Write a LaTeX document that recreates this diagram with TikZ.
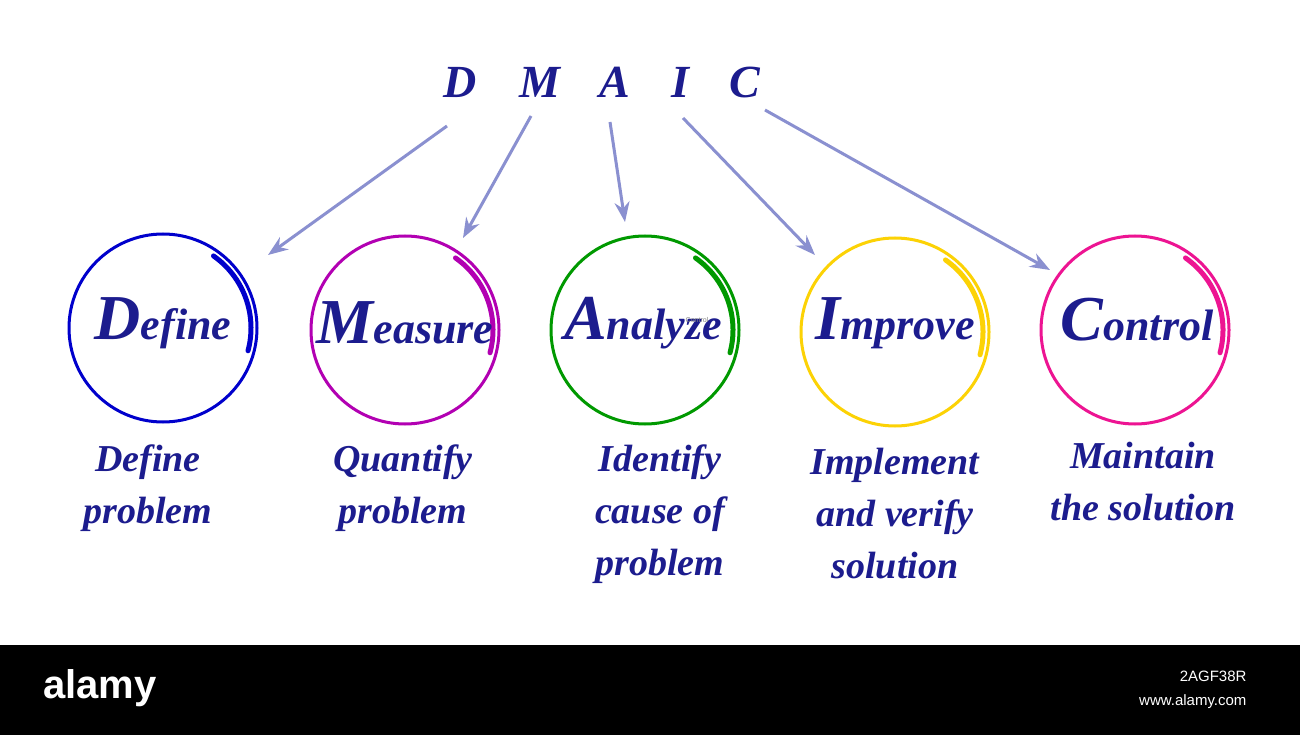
\documentclass[tikz,border=0pt]{standalone}
\usepackage{fontspec}
\setmainfont{Liberation Serif}
\newfontfamily\sansf{Liberation Sans}
\usetikzlibrary{arrows.meta,calc}
\definecolor{navy}{HTML}{1C1C8E}
\definecolor{arr}{HTML}{8A90D0}
\tikzset{
 ring/.style={line width=3pt},
 tip/.style={line width=5pt,line cap=round},
 big/.style={font=\bfseries\itshape\fontsize{44}{44}\selectfont,text=navy,inner sep=0},
 lab/.style={font=\bfseries\itshape\fontsize{38}{52}\selectfont,text=navy,align=center},
 ttl/.style={font=\bfseries\itshape\fontsize{46}{46}\selectfont,text=navy},
 conn/.style={draw=arr,line width=3pt,-{Stealth[length=20pt,width=15pt]}}
}
\newcommand{\Bg}[2]{{\fontsize{64}{64}\selectfont #1}#2}
\begin{document}
\begin{tikzpicture}[x=1pt,y=-1pt]
\useasboundingbox (0,0) rectangle (1300,735);
\fill[white] (0,0) rectangle (1300,735);
% title letters
\node[ttl] (d) at (460,82) {D};
\node[ttl] (m) at (540,82) {M};
\node[ttl] (a) at (615,82) {A};
\node[ttl] (i) at (680,82) {I};
\node[ttl] (c) at (745,82) {C};
% circles
\foreach \n/\x/\y/\col in {c1/163/328/{blue!80!black},c2/405/330/{violet!60!magenta},c3/645/330/{green!60!black},c4/895/332/{yellow!70!orange},c5/1135/330/{magenta!90!pink}}{
  \coordinate (\n) at (\x,\y);
  \draw[ring,draw=\col] (\n) circle[radius=94];
  \draw[tip,draw=\col] ($(\n)+(-55:88)$) arc[start angle=-55,end angle=15,radius=88];
}
\coordinate (ta) at (268,255);
\coordinate (tb) at (463,238);
\coordinate (tc) at (625,222);
\coordinate (td) at (815,255);
\coordinate (te) at (1050,270);
\draw[conn] (447,126) -- (ta);
\draw[conn] (531,116) -- (tb);
\draw[conn] (610,122) -- (tc);
\draw[conn] (683,118) -- (td);
\draw[conn] (765,110) -- (te);
% circle texts
\node[big] (w1) at (163,323) {\Bg{D}{efine}};
\node[big] (w2) at (405,323) {\Bg{M}{easure}};
\node[big] (w3) at (643,323) {\Bg{A}{nalyze}};
\node[big] (w4) at (895,323) {\Bg{I}{mprove}};
\node[big] (w5) at (1137,320) {\Bg{C}{ontrol}};
\node[font=\sansf\fontsize{7}{7}\selectfont,text=gray] (tiny) at (697,320) {Control};
% labels
\node[lab] (l1) at (148,488) {Define\\problem};
\node[lab] (l2) at (403,488) {Quantify\\problem};
\node[lab] (l3) at (660,514) {Identify\\cause of\\problem};
\node[lab] (l4) at (895,514) {Implement\\and verify\\solution};
\node[lab] (l5) at (1143,482) {Maintain\\the solution};
% bottom band
\fill[black] (0,645) rectangle (1300,735);
\node[font=\sansf\bfseries\fontsize{40}{40}\selectfont,text=white] (al) at (100,688) {alamy};
\node[font=\sansf\fontsize{15}{15}\selectfont,text=white,anchor=east] (id) at (1250,676) {2AGF38R};
\node[font=\sansf\fontsize{15}{15}\selectfont,text=white,anchor=east] (ww) at (1250,702) {www.alamy.com};
\end{tikzpicture}
\end{document}
